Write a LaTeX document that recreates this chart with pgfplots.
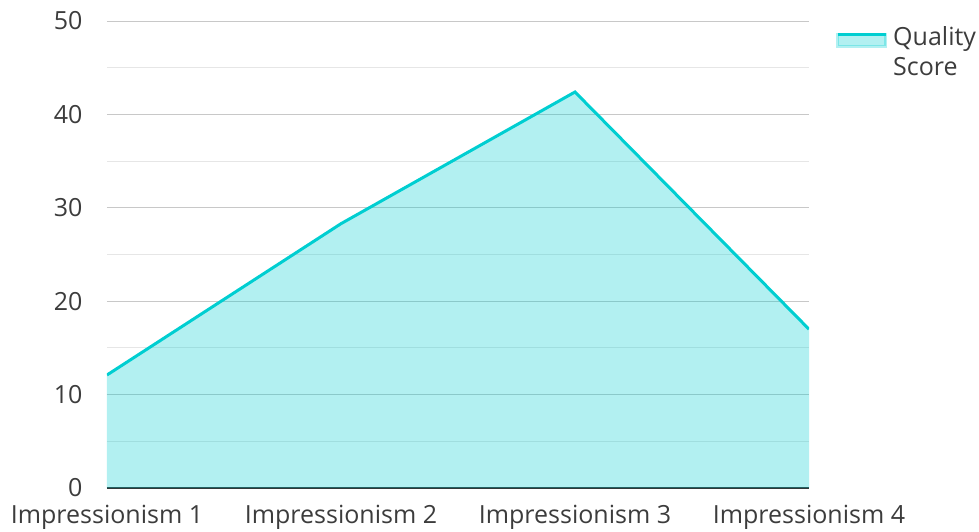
\documentclass[border=0pt]{standalone}
\usepackage{pgfplots}
\pgfplotsset{compat=1.18}
\usepackage{fontspec}
\setmainfont{Open Sans}
\definecolor{lineC}{RGB}{0,206,209}
\definecolor{gridMaj}{RGB}{200,200,200}
\definecolor{gridMin}{RGB}{230,230,230}
\definecolor{txt}{RGB}{60,60,60}
\definecolor{axisC}{RGB}{50,50,50}
\begin{document}
\begin{tikzpicture}
\useasboundingbox (-107pt,-43pt) rectangle (872pt,488pt);
\begin{axis}[
  at={(0pt,0pt)}, anchor=south west,
  scale only axis, width=702pt, height=467pt,
  xmin=0, xmax=3, ymin=0, ymax=50,
  xtick={0,1,2,3},
  xticklabels={Impressionism 1,Impressionism 2,Impressionism 3,Impressionism 4},
  ytick={0,10,20,30,40,50},
  minor ytick={5,15,25,35,45},
  ymajorgrids, yminorgrids,
  major grid style={gridMaj, line width=1pt},
  minor grid style={gridMin, line width=1pt},
  axis x line*=bottom, axis y line*=left,
  x axis line style={axisC, line width=1.5pt, -},
  y axis line style={draw=none},
  tick style={draw=none},
  major tick length=0pt, minor tick length=0pt,
  ticklabel style={font=\fontsize{25}{29}\selectfont, text=txt},
  xticklabel style={yshift=-14pt},
  yticklabel style={xshift=-21pt},
  /pgf/number format/assume math mode=true,
  legend style={draw=none, at={(1,1)}, anchor=north west, xshift=24pt, yshift=-1pt,
    font=\fontsize{25}{30}\selectfont, text=txt, fill=none,
    cells={align=left}, column sep=4pt},
  legend cell align=left,
  legend image code/.code={
    \fill[lineC, opacity=0.3] (0pt,5pt) rectangle (48pt,17pt);
    \draw[lineC, line width=3pt] (0pt,17pt) -- (48pt,17pt);
  },
]
\addplot[draw=none, fill=lineC, fill opacity=0.3, forget plot]
  coordinates {(0,12.1) (1,28.3) (2,42.4) (3,17.0)} \closedcycle;
\addplot[lineC, line width=3pt]
  coordinates {(0,12.1) (1,28.3) (2,42.4) (3,17.0)};
\addlegendentry{Quality\\Score}
\end{axis}
\end{tikzpicture}
\end{document}
